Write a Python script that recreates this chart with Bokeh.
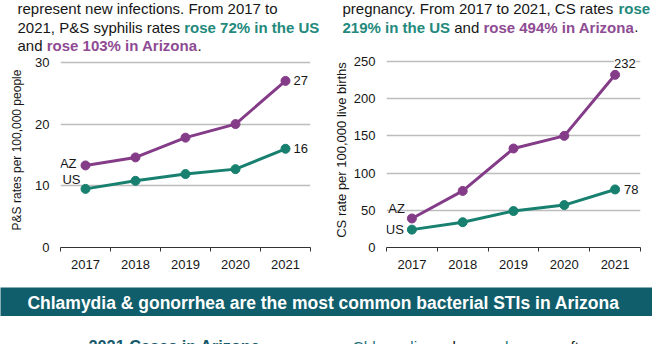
from bokeh.plotting import figure
from bokeh.layouts import column, row
from bokeh.models import Range1d, FixedTicker, Label, ColumnDataSource
from bokeh.embed import file_html
from bokeh.resources import INLINE
from bokeh.core.properties import value

# ---- data ---------------------------------------------------------------
years = [2017, 2018, 2019, 2020, 2021]
ps_az = [13.3, 14.6, 17.8, 20.0, 27]      # P&S syphilis, per 100,000 people
ps_us = [9.5, 10.8, 11.9, 12.7, 16]
cs_az = [39, 76, 133, 150, 232]           # congenital syphilis, per 100,000 live births
cs_us = [24, 34, 49, 57, 78]
ps_ticks = [0, 10, 20, 30]
cs_ticks = [0, 50, 100, 150, 200, 250]

FONT = "Liberation Sans"
PURPLE = "#843c88"
TEAL = "#17806f"
PURPLE_TXT = "#8e4b93"
TEAL_TXT = "#23897c"
BANNER = "#105e6b"
DARK_TEAL = "#15596a"
INK = "#161616"

# Arial / Liberation Sans advance widths (1/1000 em), used to chain coloured runs
REG, BOLD = {}, {}
for w, chars in [(278, " ,.!fIt"), (222, "ijl"), (333, "r()-"), (500, "cksvxyzJ"),
                 (556, "abdeghnopqu0123456789L"), (611, "FTZ"), (667, "ABEKPSVXY&"),
                 (722, "CDHNRUw"), (778, "GOQ"), (833, "mM"), (889, "%"), (944, "W")]:
    for ch in chars:
        REG[ch] = w
for w, chars in [(278, " ,.!iIjl"), (333, "ft"), (389, "r"), (500, "z"),
                 (556, "acesvxykJ0123456789"), (611, "bdghnopquFTZL"), (667, "EPSVXY"),
                 (722, "ABCDHKNRU&"), (778, "GOQw"), (833, "M"), (889, "m%"), (944, "W")]:
    for ch in chars:
        BOLD[ch] = w


def text_width(s, size, bold):
    table = BOLD if bold else REG
    return sum(table.get(ch, 556) for ch in s) * size / 1000.0


def draw_runs(p, lines, x0, size, baseline="alphabetic"):
    """Draw lines made of (text, colour, bold) runs, one run after another."""
    cols = {False: dict(x=[], y=[], text=[], color=[]), True: dict(x=[], y=[], text=[], color=[])}
    for ypos, parts in lines:
        x = x0
        for txt, color, bold in parts:
            stripped = txt.lstrip(" ")
            x += text_width(txt[:len(txt) - len(stripped)], size, bold)
            d = cols[bold]
            d["x"].append(x)
            d["y"].append(ypos)
            d["text"].append(stripped)
            d["color"].append(color)
            x += text_width(stripped, size, bold)
    for bold, d in cols.items():
        if d["x"]:
            p.text(x="x", y="y", text="text", text_color="color", source=ColumnDataSource(d),
                   text_font=value(FONT), text_font_size=f"{size}px",
                   text_font_style="bold" if bold else "normal",
                   text_align="left", text_baseline=baseline)


def blank(width, height, bg="white", **kw):
    p = figure(width=width, height=height, x_range=Range1d(0, width), y_range=Range1d(height, 0),
               min_border=0, toolbar_location=None, output_backend="svg",
               x_axis_type=None, y_axis_type=None, outline_line_color=None,
               background_fill_color=bg, border_fill_color=bg, **kw)
    p.grid.visible = False
    return p


# ---- intro text above the two charts ----------------------------------------
# the panel is a little taller than its slot; the charts tuck up under its empty bottom strip
intro = blank(655, 58, margin=(0, 0, -6, 0))
draw_runs(intro, [
    (8, [("represent new infections. From 2017 to", INK, False)]),
    (26.5, [("2021, P&S syphilis rates ", INK, False), ("rose 72% in the US", TEAL_TXT, True)]),
    (45, [("and ", INK, False), ("rose 103% in Arizona", PURPLE_TXT, True), (".", INK, False)]),
], 17, 15)
draw_runs(intro, [
    (8, [("pregnancy. From 2017 to 2021, CS rates ", INK, False), ("rose", TEAL_TXT, True)]),
    (26.5, [("219% in the US", TEAL_TXT, True), (" and ", INK, False),
            ("rose 494% in Arizona", PURPLE_TXT, True), (".", INK, False)]),
], 342, 15)


# ---- line charts --------------------------------------------------------------
def chart(width, left, right, ymax, yticks, ylabel, label_size, label_standoff,
          az, us, az_off, us_off, end_offs, end_bg):
    p = figure(width=width, height=235, x_range=Range1d(2016.5, 2021.5), y_range=Range1d(0, ymax),
               min_border_left=left, min_border_right=right, min_border_top=0,
               min_border_bottom=40, toolbar_location=None, output_backend="svg",
               outline_line_color=None)
    p.xgrid.visible = False
    p.ygrid.ticker = FixedTicker(ticks=yticks)
    p.ygrid.grid_line_color = "#bdbdbd"
    p.ygrid.grid_line_width = 1.5

    xa = p.xaxis[0]
    xa.ticker = FixedTicker(ticks=years, minor_ticks=[y - 0.5 for y in years] + [years[-1] + 0.5])
    xa.axis_line_color = "#333333"
    xa.major_tick_line_color = None
    xa.major_tick_out = 0
    xa.major_tick_in = 0
    xa.minor_tick_line_color = "#333333"
    xa.minor_tick_out = 4
    xa.minor_tick_in = 0
    xa.major_label_standoff = 8
    xa.major_label_text_font = FONT
    xa.major_label_text_font_size = "13px"
    xa.major_label_text_color = INK

    ya = p.yaxis[0]
    ya.ticker = FixedTicker(ticks=yticks)
    ya.axis_line_color = None
    ya.major_tick_line_color = None
    ya.minor_tick_line_color = None
    ya.major_tick_out = 0
    ya.major_tick_in = 0
    ya.major_label_standoff = 11
    ya.major_label_text_font = FONT
    ya.major_label_text_font_size = "13px"
    ya.major_label_text_color = INK
    ya.axis_label = ylabel
    ya.axis_label_text_font = FONT
    ya.axis_label_text_font_style = "normal"
    ya.axis_label_text_font_size = label_size
    ya.axis_label_text_color = INK
    ya.axis_label_standoff = label_standoff

    for vals, color in [(us, TEAL), (az, PURPLE)]:
        p.line(years, vals, line_width=3, color=color)
        p.scatter(years, vals, size=9, color=color)

    # series names beside the first points
    for name, vals, (dx, dy) in [("AZ", az, az_off), ("US", us, us_off)]:
        p.add_layout(Label(x=years[0], y=vals[0], text=name, x_offset=dx, y_offset=dy,
                           text_align="right", text_baseline="middle", text_font=FONT,
                           text_font_size="13px", text_color=INK))
    # final values
    for vals, (dx, dy), bg in zip([az, us], end_offs, end_bg):
        p.add_layout(Label(x=years[-1], y=vals[-1], text=f"{vals[-1]:g}", x_offset=dx, y_offset=dy,
                           text_align="left", text_baseline="middle", text_font=FONT,
                           text_font_size="13px", text_color=INK,
                           background_fill_color=bg, background_fill_alpha=1.0 if bg else 0))
    return p


# both frames run from 52 to 247 px; the 30 and 250 gridlines sit near 62 and 61
ps_chart = chart(330, 60, 20, 31.6, ps_ticks, "P&S rates per 100,000 people", "12px", 8,
                 ps_az, ps_us, (-9, 2), (-5, 9), [(8, 0), (8, 0)], [None, None])
cs_chart = chart(325, 54, 15, 262, cs_ticks, "CS rate per 100,000 live births", "13px", 2,
                 cs_az, cs_us, (-7, 10), (-8, 0), [(-1, 11), (9, 0)], ["white", None])

# ---- section banner -----------------------------------------------------------
banner = blank(652, 29, BANNER)
banner.text(x=[323], y=[15], text=["Chlamydia & gonorrhea are the most common bacterial STIs in Arizona"],
            text_font=value(FONT), text_font_size="17.5px", text_font_style="bold",
            text_color="white", text_align="center", text_baseline="middle")

# ---- start of the next section --------------------------------------------------
lower = blank(655, 28)
draw_runs(lower, [(20.5, [("2021 Cases in Arizona", DARK_TEAL, True)])], 88, 16.3, baseline="top")
draw_runs(lower, [
    (21.5, [("Chlamydia", "#1d6f7c", False), (" and ", INK, False),
            ("gonorrhea", "#1d6f7c", False), (" are often", INK, False)]),
], 352, 15.5, baseline="top")

page = column(intro, row(ps_chart, cs_chart), banner, lower)
open("out.html", "w").write(file_html(page, INLINE))
